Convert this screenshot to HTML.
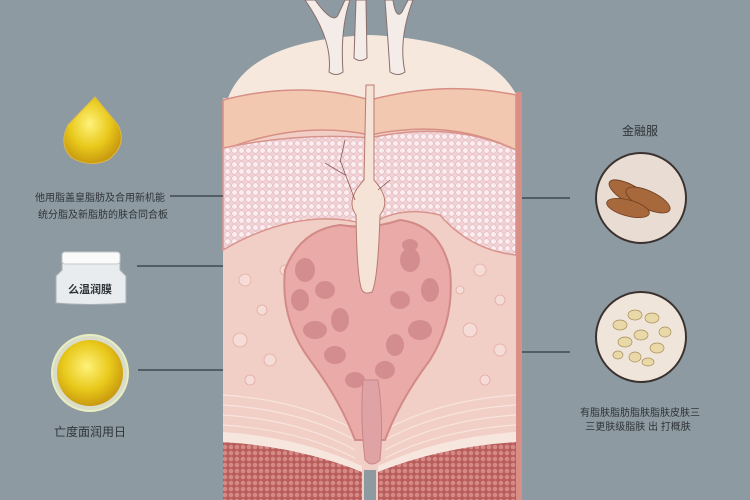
<!DOCTYPE html>
<html><head><meta charset="utf-8"><style>
html,body{margin:0;padding:0;background:#8e9aa2;}
svg{display:block}
text{font-family:"Liberation Sans","Noto Sans CJK SC",sans-serif;fill:#2e3438}
</style></head><body>
<svg width="750" height="500" viewBox="0 0 750 500" xmlns="http://www.w3.org/2000/svg">
<defs>
<pattern id="cells" width="7" height="7" patternUnits="userSpaceOnUse"><rect width="7" height="7" fill="#f0d3d6"/><circle cx="3.5" cy="3.5" r="2.8" fill="#fbeef0" stroke="#e6b9bf" stroke-width="0.6"/></pattern>
<pattern id="red" width="6" height="6" patternUnits="userSpaceOnUse"><rect width="6" height="6" fill="#b85c5c"/><circle cx="3" cy="3" r="2.3" fill="#d68a86"/></pattern>
<radialGradient id="yel" cx="45%" cy="40%" r="60%"><stop offset="0" stop-color="#fff27a"/><stop offset="0.6" stop-color="#e8c81a"/><stop offset="1" stop-color="#c99a10"/></radialGradient>
</defs>
<rect width="750" height="500" fill="#8e9aa2"/>
<!-- cap -->
<path d="M228 98 Q250 40 370 35 Q490 40 518 98 L518 120 L228 120Z" fill="#f7e8de"/>
<!-- hairs -->
<g fill="#f3ece8" stroke="#8a6e6a" stroke-width="1">
<path d="M329 72 Q333 40 305 0 L315 0 Q333 25 338 15 L345 0 L350 0 Q340 30 343 72 Q336 77 329 72Z"/>
<path d="M354 58 L356 0 L366 0 L367 58 Q360 63 354 58Z"/>
<path d="M390 72 Q388 40 385 0 L393 0 Q396 20 402 12 L408 0 L413 0 Q398 40 405 72 Q398 77 390 72Z"/>
</g>
<!-- block -->
<rect x="223" y="98" width="299" height="402" fill="#f2cfc6"/>
<rect x="516" y="92" width="6" height="408" fill="#d98e86"/>
<!-- epidermis -->
<path d="M223 100 Q300 80 370 100 Q445 80 516 95 L516 150 Q450 118 370 135 Q300 120 223 150Z" fill="#f3c8b0" stroke="#d78f84" stroke-width="1.5"/>
<!-- cell layer -->
<path d="M223 148 Q300 132 370 138 Q450 120 516 150 L516 255 Q470 250 440 215 Q400 205 370 225 Q300 205 223 250Z" fill="url(#cells)" stroke="#d8948c" stroke-width="1.5"/>
<!-- dermis dots -->
<g fill="#f6dcd6" stroke="#e3aaa3" stroke-width="0.8">
<circle cx="245" cy="280" r="6"/><circle cx="262" cy="310" r="5"/><circle cx="240" cy="340" r="7"/><circle cx="270" cy="360" r="6"/><circle cx="250" cy="380" r="5"/><circle cx="285" cy="270" r="5"/>
<circle cx="480" cy="270" r="6"/><circle cx="500" cy="300" r="5"/><circle cx="470" cy="330" r="7"/><circle cx="500" cy="350" r="6"/><circle cx="485" cy="380" r="5"/><circle cx="460" cy="290" r="4"/>
</g>
<!-- fibrous lines -->
<g stroke="#f7e4de" stroke-width="1.2" fill="none">
<path d="M223 395 Q300 400 355 430"/><path d="M223 405 Q300 410 355 440"/><path d="M223 415 Q300 420 355 450"/><path d="M223 425 Q300 430 355 458"/>
<path d="M516 395 Q440 400 385 430"/><path d="M516 405 Q440 410 385 440"/><path d="M516 415 Q440 420 385 450"/><path d="M516 425 Q440 430 385 458"/>
</g>
<!-- bottom red -->
<path d="M223 440 Q300 445 362 470 L362 500 L223 500Z" fill="url(#red)"/>
<path d="M516 440 Q440 445 378 470 L378 500 L516 500Z" fill="url(#red)"/>
<path d="M223 432 Q300 437 362 466 L362 472 Q300 447 223 442Z" fill="#f7e6de"/>
<path d="M516 432 Q440 437 378 466 L378 472 Q440 447 516 442Z" fill="#f7e6de"/>
<rect x="364" y="470" width="12" height="30" fill="#8e9aa2"/>
<!-- gland -->
<path d="M340 225 Q300 230 285 270 Q280 320 310 360 Q340 400 355 440 L385 440 Q400 400 430 360 Q455 320 450 270 Q440 225 400 220 Q370 230 340 225Z" fill="#e9aaa8" stroke="#d28a86" stroke-width="2"/>
<g fill="#d48d8e">
<ellipse cx="305" cy="270" rx="10" ry="12"/><ellipse cx="300" cy="300" rx="9" ry="11"/><ellipse cx="325" cy="290" rx="10" ry="9"/><ellipse cx="315" cy="330" rx="12" ry="9"/><ellipse cx="340" cy="320" rx="9" ry="12"/><ellipse cx="335" cy="355" rx="11" ry="9"/><ellipse cx="355" cy="380" rx="10" ry="8"/>
<ellipse cx="410" cy="260" rx="10" ry="12"/><ellipse cx="430" cy="290" rx="9" ry="12"/><ellipse cx="400" cy="300" rx="10" ry="9"/><ellipse cx="420" cy="330" rx="12" ry="10"/><ellipse cx="395" cy="345" rx="9" ry="11"/><ellipse cx="385" cy="370" rx="10" ry="9"/><ellipse cx="410" cy="245" rx="8" ry="6"/>
</g>
<path d="M363 380 Q360 420 365 460 Q372 468 380 460 Q384 420 378 380Z" fill="#dfa3a6" stroke="#c98689" stroke-width="1"/>
<!-- hair shaft -->
<path d="M366 85 L374 85 L374 180 Q392 200 380 215 Q378 280 372 292 Q365 295 362 290 Q357 280 356 215 Q345 200 364 180Z" fill="#f6e3d8" stroke="#b87a70" stroke-width="1"/>
<g stroke="#8a5a55" stroke-width="0.8" fill="none"><path d="M355 200 L340 160 M345 175 L325 163 M340 162 L345 140 M378 190 L390 180"/></g>
<!-- connector lines -->
<g stroke="#2f3a40" stroke-width="1.2">
<line x1="170" y1="196" x2="223" y2="196"/><line x1="137" y1="266" x2="223" y2="266"/><line x1="138" y1="370" x2="223" y2="370"/>
<line x1="522" y1="198" x2="570" y2="198"/><line x1="522" y1="352" x2="570" y2="352"/>
</g>
<!-- left items -->
<path d="M95 97 Q110 115 118 125 Q128 145 108 160 Q90 168 72 158 Q58 145 68 125 Q80 112 95 97Z" fill="url(#yel)" stroke="#d8b84a"/>
<text x="100" y="201" font-size="10" text-anchor="middle">他用脂盖皇脂肪及合用新机能</text>
<text x="103" y="218" font-size="10" text-anchor="middle">统分脂及新脂肪的肤合同合板</text>
<path d="M62 258 L120 258 L120 270 L126 276 L126 303 Q90 306 56 303 L56 276 L62 270Z" fill="#e9ecee" stroke="#aab0b4"/>
<rect x="62" y="252" width="58" height="12" rx="3" fill="#fafafa" stroke="#c3c7ca"/>
<text x="90" y="293" font-size="11" text-anchor="middle" font-weight="bold">么温润膜</text>
<circle cx="90" cy="373" r="38" fill="#d8dcc8" stroke="#e8eec0" stroke-width="2"/>
<circle cx="90" cy="373" r="33" fill="url(#yel)"/>
<text x="90" y="436" font-size="12" text-anchor="middle">亡度面润用日</text>
<!-- right items -->
<text x="640" y="135" font-size="12" text-anchor="middle">金融服</text>
<circle cx="641" cy="198" r="45" fill="#e9ddd3" stroke="#3b3230" stroke-width="2"/>
<g fill="#a7683c" stroke="#6e3e20" stroke-width="0.8">
<ellipse cx="632" cy="195" rx="26" ry="9" transform="rotate(30 632 195)"/><ellipse cx="648" cy="200" rx="24" ry="9" transform="rotate(25 648 200)"/><ellipse cx="628" cy="208" rx="22" ry="8" transform="rotate(15 628 208)"/>
</g>
<circle cx="641" cy="337" r="45" fill="#efe5da" stroke="#3b3230" stroke-width="2"/>
<g fill="#ead9a8" stroke="#a88e5a" stroke-width="0.7">
<ellipse cx="620" cy="325" rx="7" ry="5"/><ellipse cx="635" cy="315" rx="7" ry="5"/><ellipse cx="652" cy="318" rx="7" ry="5"/><ellipse cx="665" cy="332" rx="6" ry="5"/><ellipse cx="625" cy="342" rx="7" ry="5"/><ellipse cx="641" cy="335" rx="7" ry="5"/><ellipse cx="657" cy="348" rx="7" ry="5"/><ellipse cx="635" cy="357" rx="6" ry="5"/><ellipse cx="648" cy="362" rx="6" ry="4"/><ellipse cx="618" cy="355" rx="5" ry="4"/>
</g>
<text x="640" y="416" font-size="10" text-anchor="middle">有脂肤脂肪脂肤脂肤皮肤三</text>
<text x="638" y="430" font-size="10" text-anchor="middle">三更肤级脂肤 出 打概肤</text>
</svg>
</body></html>
